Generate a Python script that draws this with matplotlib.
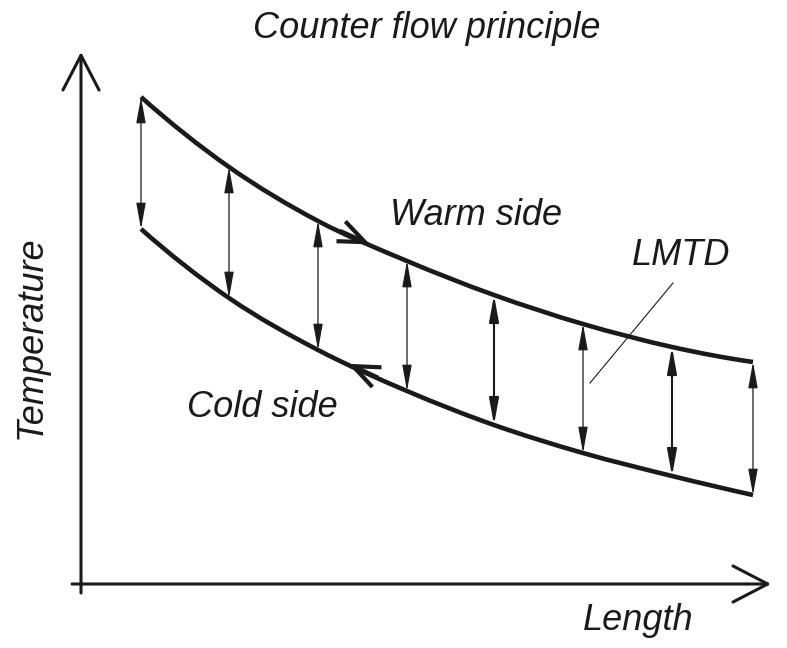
import numpy as np
import matplotlib
matplotlib.use("Agg")
import matplotlib.pyplot as plt
from matplotlib.path import Path
from matplotlib.patches import PathPatch, FancyArrowPatch

# ---- data (length along exchanger, temperature; arbitrary units) ----
length = [60, 148, 237, 326, 413, 502, 591, 672]
warm = [487, 417, 363, 323, 289, 260, 237, 222]
cold = [355, 286, 234, 193, 159, 131, 108, 89]
thick_arrows = [4, 6]          # indices of the bolder LMTD arrows
warm_dir_tip = 289             # where the flow-direction arrowheads sit
cold_dir_tip = 267

title = "Counter flow principle"
xlabel = "Length"
ylabel = "Temperature"
warm_label = "Warm side"
cold_label = "Cold side"
lmtd_label = "LMTD"

INK = "#1a1a1a"
FONT = ["Liberation Sans", "DejaVu Sans"]

fig = plt.figure(figsize=(7.87, 6.48), dpi=100)
ax = fig.add_axes([0, 0, 1, 1])
ax.set_xlim(-81, 706)
ax.set_ylim(-64, 584)
ax.axis("off")


def smooth_path(xs, ys):
    pts = np.column_stack([xs, ys]).astype(float)
    n = len(pts)
    # phantom end points by quadratic extrapolation (keeps end curvature)
    first = 3 * pts[0] - 3 * pts[1] + pts[2]
    last = 3 * pts[-1] - 3 * pts[-2] + pts[-3]
    ext = np.vstack([first, pts, last])
    verts = [pts[0]]
    codes = [Path.MOVETO]
    for i in range(1, n):
        p0, p1, p2, p3 = ext[i - 1], ext[i], ext[i + 1], ext[i + 2]
        c1 = p1 + (p2 - p0) / 6.0
        c2 = p2 - (p3 - p1) / 6.0
        verts += [c1, c2, p2]
        codes += [Path.CURVE4] * 3
    return Path(verts, codes)


for ys in (warm, cold):
    ax.add_patch(PathPatch(smooth_path(length, ys), fill=False, lw=3.3,
                           edgecolor=INK, capstyle="butt", joinstyle="round"))

# LMTD double arrows
for i, (x, yw, yc) in enumerate(zip(length, warm, cold)):
    lw = 1.5 if i in thick_arrows else 0.9
    ax.add_patch(FancyArrowPatch((x, yc), (x, yw),
                                 arrowstyle="<|-|>,head_length=16,head_width=2.9",
                                 mutation_scale=1, lw=lw, color=INK,
                                 shrinkA=0, shrinkB=0))

# flow direction arrowheads on the curves
def dir_arrow(series, tip_x, tail_x):
    ty = np.interp(tip_x, length, series)
    sy = np.interp(tail_x, length, series)
    ax.add_patch(FancyArrowPatch((tail_x, sy), (tip_x, ty),
                                 arrowstyle="->,head_length=19,head_width=7.8",
                                 mutation_scale=1, lw=3.0, color=INK,
                                 shrinkA=0, shrinkB=0, capstyle="butt",
                                 joinstyle="miter"))

dir_arrow(warm, warm_dir_tip, warm_dir_tip - 30)
dir_arrow(cold, cold_dir_tip, cold_dir_tip + 30)

# axes with open arrowheads
ax.add_patch(FancyArrowPatch((0, -9), (0, 532),
                             arrowstyle="->,head_length=25,head_width=13",
                             mutation_scale=1, lw=2.2, color=INK,
                             shrinkA=0, shrinkB=0))
ax.add_patch(FancyArrowPatch((-9, 0), (690, 0),
                             arrowstyle="->,head_length=25,head_width=13",
                             mutation_scale=1, lw=2.2, color=INK,
                             shrinkA=0, shrinkB=0))

# LMTD leader line
ax.plot([592, 509], [301, 201], color=INK, lw=0.8)

tkw = dict(family=FONT, style="italic", color=INK, fontsize=26)
ax.text(346, 546, title, ha="center", va="baseline", **tkw)
ax.text(395, 359, warm_label, ha="center", va="baseline", **tkw)
ax.text(181, 167, cold_label, ha="center", va="baseline", **tkw)
ax.text(600, 319, lmtd_label, ha="center", va="baseline", **tkw)
ax.text(557, -46, xlabel, ha="center", va="baseline", **tkw)
ax.text(-49.5, 246.5, ylabel, ha="center", va="center", rotation=90, **tkw)

fig.savefig("out.png", dpi=100)
